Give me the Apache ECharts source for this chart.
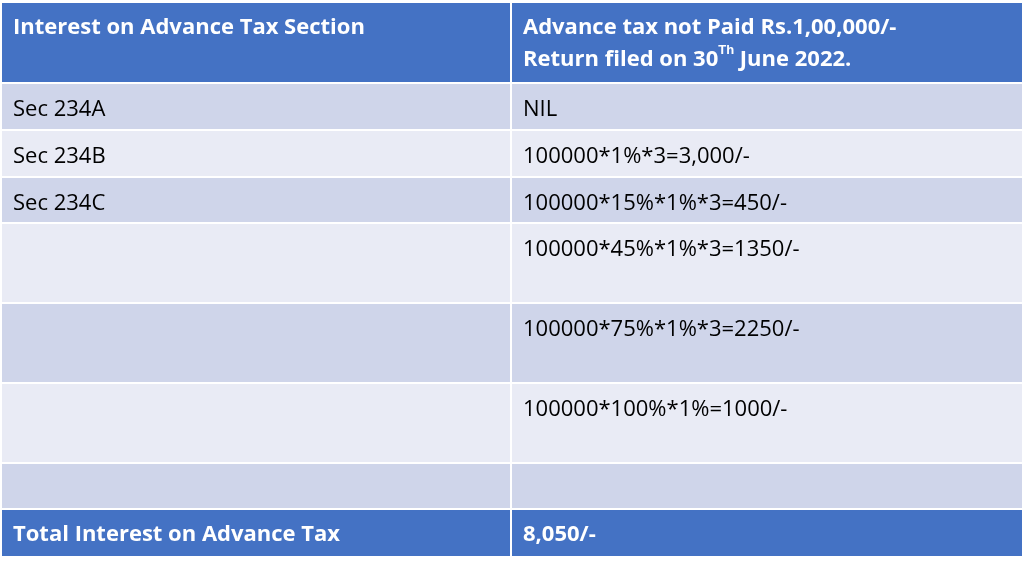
<!DOCTYPE html>
<html>
<head>
<meta charset="utf-8">
<script src="https://cdn.jsdelivr.net/npm/echarts@6/dist/echarts.min.js"></script>
<style>html,body{margin:0;padding:0;background:#fff}#c{width:1024px;height:568px}</style>
</head>
<body>
<div id="c"></div>
<script>
// row boundaries (top, bottom) in table units
const rowTops = [3, 84, 131, 178, 224, 304, 384, 464, 510];
const rowBottoms = [82, 129, 176, 222, 302, 382, 462, 508, 556];
const colLefts = [2, 512];
const colRights = [510, 1022];
const rowKinds = ['head', 'dark', 'light', 'dark', 'light', 'dark', 'light', 'dark', 'head'];
const leftTexts = ['Interest on Advance Tax Section', 'Sec 234A', 'Sec 234B', 'Sec 234C', '', '', '', '', 'Total Interest on Advance Tax'];
const rightTexts = [
  'Advance tax not Paid Rs.1,00,000/-\nReturn filed on 30{sup|Th} June 2022.',
  'NIL',
  '100000*1%*3=3,000/-',
  '100000*15%*1%*3=450/-',
  '100000*45%*1%*3=1350/-',
  '100000*75%*1%*3=2250/-',
  '100000*100%*1%=1000/-',
  '',
  '8,050/-'
];

const colors = { head: '#4472C4', dark: '#CFD5EA', light: '#E9EBF5' };
const cells = [];
rowTops.forEach((t, r) => {
  cells.push([r, 0]);
  cells.push([r, 1]);
});

const chart = echarts.init(document.getElementById('c'));
chart.setOption({
  animation: false,
  grid: { left: 0, right: 0, top: 0, bottom: 0 },
  xAxis: { type: 'value', min: 0, max: 1024, show: false },
  yAxis: { type: 'value', min: 0, max: 568, inverse: true, show: false },
  series: [{
    type: 'custom',
    data: cells,
    renderItem: function (params, api) {
      const r = api.value(0), c = api.value(1);
      const p0 = api.coord([colLefts[c], rowTops[r]]);
      const p1 = api.coord([colRights[c], rowBottoms[r]]);
      const head = rowKinds[r] === 'head';
      const txt = c === 0 ? leftTexts[r] : rightTexts[r];
      return {
        type: 'group',
        children: [
          { type: 'rect', shape: { x: p0[0], y: p0[1], width: p1[0] - p0[0], height: p1[1] - p0[1] },
            style: { fill: colors[rowKinds[r]] } },
          { type: 'text', x: p0[0] + 11, y: p0[1] + (head && r === 0 ? 9 : (head ? 9 : 10)),
            style: {
              text: txt,
              fill: head ? '#fff' : '#000',
              font: (head ? 'bold ' : '') + '23px "Liberation Sans Narrow", "Open Sans", sans-serif',
              fontFamily: 'Open Sans',
              fontSize: 22,
              fontWeight: head ? 'bold' : 'normal',
              lineHeight: 32,
              rich: { sup: { fontSize: 13, verticalAlign: 'top', fontWeight: 'bold', fill: '#fff', lineHeight: 32, padding: [0, 0, 10, 0] } }
            } }
        ]
      };
    }
  }]
});
</script>
</body>
</html>
